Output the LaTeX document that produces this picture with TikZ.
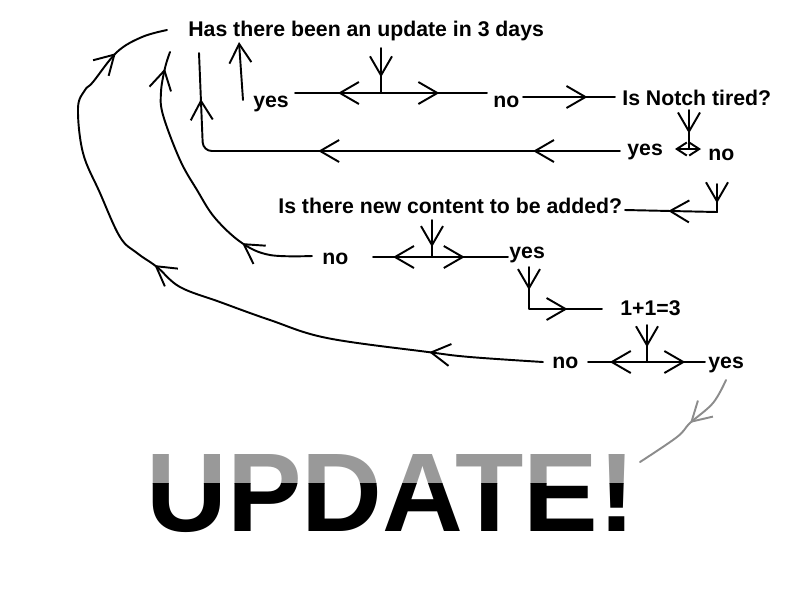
\documentclass[tikz,border=0pt]{standalone}
\usepackage{fontspec}
\setmainfont{Liberation Sans}
\usetikzlibrary{arrows.meta, decorations.markings}
\definecolor{paintgray}{HTML}{999999}
\definecolor{linegray}{HTML}{8C8C8C}
\begin{document}
\begin{tikzpicture}[x=0.02cm, y=-0.02cm,
  lbl/.style={font=\bfseries\fontsize{12.1}{14}\selectfont, inner sep=0pt, anchor=base west},
  big/.style={font=\bfseries\fontsize{63.7}{70}\selectfont, inner sep=0pt, anchor=base west},
  wire/.style={line width=1.1pt, line cap=round, line join=round},
  sketch/.tip={Straight Barb[length=3.8mm, width=4.4mm]},
  small/.tip={Straight Barb[length=2mm, width=2.6mm]},
  arr/.style={postaction={decorate, decoration={markings, mark=at position #1 with {\arrow{sketch}}}}}]
		\useasboundingbox (0,0) rectangle (800,600);
		\node[lbl] (q1) at (188,36) {Has there been an update in 3 days};
		\node[lbl] (y1) at (253,107) {yes};
		\node[lbl] (n1) at (493,107) {no};
		\node[lbl] (q2) at (622,105) {Is Notch tired?};
		\node[lbl] (y2) at (627,155) {yes};
		\node[lbl] (n2) at (708,160) {no};
		\node[lbl] (q3) at (278,213) {Is there new content to be added?};
		\node[lbl] (n3) at (322,264) {no};
		\node[lbl] (y3) at (509,258) {yes};
		\node[lbl] (q4) at (620,315) {1+1=3};
		\node[lbl] (n4) at (552,368) {no};
		\node[lbl] (y4) at (708,368) {yes};
		
		\begin{scope}
			\clip (100,430) rectangle (700,483);
			\node[big, text=paintgray] (upd) at (146,531) {UPDATE!};
		\end{scope}
		\begin{scope}
			\clip (100,483) rectangle (700,570);
			\node[big] (updb) at (146,531) {UPDATE!};
		\end{scope}
		
		\coordinate (t1) at (381,48); \coordinate (j1) at (381,93);
		\coordinate (a1) at (295,93); \coordinate (b1) at (487,93);
		\draw[wire, arr=0.65] (t1) -- (j1);
		\draw[wire, arr=0.5] (j1) -- (a1);
		\draw[wire, arr=0.55] (j1) -- (b1);
		\coordinate (u1) at (243,100); \coordinate (u1t) at (239,42);
		\draw[wire, -sketch] (u1) -- (u1t);
		\coordinate (c1) at (523,97); \coordinate (d1) at (615,97);
		\draw[wire, arr=0.7] (c1) -- (d1);
		
		\coordinate (t2) at (689,110); \coordinate (j2) at (689,149);
		\coordinate (a2) at (675,149); \coordinate (b2) at (701,149);
		\draw[wire, arr=0.6] (t2) -- (j2);
		\draw[wire, -small] (j2) -- (a2);
		\draw[wire, -small] (j2) -- (b2);
		\coordinate (s2) at (620,151); \coordinate (e2) at (199,53);
		\draw[wire, rounded corners=5, arr=0.17, arr=0.59, arr=0.91] (s2) -- (203,151) -- (e2);
		
		\coordinate (t3) at (717,184); \coordinate (j3) at (717,212); \coordinate (a3) at (625,210);
		\draw[wire, arr=0.16, arr=0.64] (t3) -- (j3) -- (a3);
		
		\coordinate (t4) at (432,220); \coordinate (j4) at (432,257);
		\coordinate (a4) at (373,257); \coordinate (b4) at (508,257);
		\draw[wire, arr=0.73] (t4) -- (j4);
		\draw[wire, arr=0.66] (j4) -- (a4);
		\draw[wire, arr=0.43] (j4) -- (b4);
		\draw[wire, arr=0.25, arr=0.94] plot[smooth, tension=0.6] coordinates {(312,256) (270,255) (242,243) (215,218) (197,190) (180,160) (163,115) (161,92) (165,68) (170,52)};
		
		\coordinate (t6) at (529,267); \coordinate (a6) at (602,309);
		\draw[wire, arr=0.2, arr=0.7] (t6) -- (529,309) -- (a6);
		
		\coordinate (t7) at (647,325); \coordinate (j7) at (647,362);
		\coordinate (a7) at (588,362); \coordinate (b7) at (705,362);
		\draw[wire, arr=0.6] (t7) -- (j7);
		\draw[wire, arr=0.63] (j7) -- (a7);
		\draw[wire, arr=0.66] (j7) -- (b7);
		\draw[wire, arr=0.16, arr=0.57, arr=0.92] plot[smooth, tension=0.6] coordinates {(543,362) (470,357) (428,352) (327,338) (270,320) (220,302) (180,287) (157,267) (137,253) (120,237) (100,193) (83,153) (78,108) (85,90) (93,82) (117,52) (142,37) (167,30)};
		
		\draw[wire, linegray, arr=0.47] plot[smooth, tension=0.6] coordinates {(726,380) (713,403) (690,423) (677,437) (640,462)};
	\end{tikzpicture}
\end{document}
